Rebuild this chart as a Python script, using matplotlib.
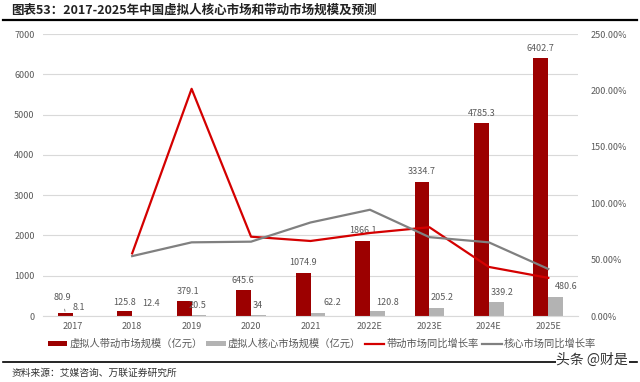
import matplotlib
matplotlib.use('Agg')
import matplotlib.pyplot as plt
from matplotlib.lines import Line2D
import numpy as np

plt.rcParams['font.family'] = ['Noto Sans CJK SC', 'DejaVu Sans']

years = ['2017', '2018', '2019', '2020', '2021', '2022E', '2023E', '2024E', '2025E']
driven = [80.9, 125.8, 379.1, 645.6, 1074.9, 1866.1, 3334.7, 4785.3, 6402.7]
core = [8.1, 12.4, 20.5, 34, 62.2, 120.8, 205.2, 339.2, 480.6]
driven_growth = [np.nan, 55.5, 201.4, 70.3, 66.5, 73.6, 78.7, 43.5, 33.8]
core_growth = [np.nan, 53.1, 65.3, 65.9, 82.9, 94.2, 69.9, 65.3, 41.7]

title = '图表53：2017-2025年中国虚拟人核心市场和带动市场规模及预测'
source = '资料来源：艾媒咨询、万联证券研究所'
legend_labels = ['虚拟人带动市场规模（亿元）', '虚拟人核心市场规模（亿元）',
                 '带动市场同比增长率', '核心市场同比增长率']

RED_BAR = '#9C0000'
GRAY_BAR = '#B3B3B3'
RED_LINE = '#D40000'
GRAY_LINE = '#808080'
TXT = '#595959'

W, H = 640, 382
fig = plt.figure(figsize=(6.4, 3.82), dpi=100)
ax = fig.add_axes([43 / W, 1 - 316 / H, 535 / W, 282 / H])

x = np.arange(len(years))
bw = 0.25
b1 = ax.bar(x - bw / 2, driven, bw, color=RED_BAR, label=legend_labels[0], zorder=2)
b2 = ax.bar(x + bw / 2, core, bw, color=GRAY_BAR, label=legend_labels[1], zorder=2)

ax.set_xlim(-0.5, len(years) - 0.5)
ax.set_ylim(0, 7000)
ax.set_yticks(range(0, 7001, 1000))
ax.set_xticks(x)
ax.set_xticklabels(years)
ax.grid(axis='y', color='#D9D9D9', lw=0.8, zorder=0)
ax.set_axisbelow(True)
for s in ['top', 'left', 'right']:
    ax.spines[s].set_visible(False)
ax.spines['bottom'].set_color('#D9D9D9')
ax.tick_params(axis='both', length=0, labelsize=6.5, colors=TXT)
ax.tick_params(axis='y', pad=6)
ax.tick_params(axis='x', pad=4)

# bar labels
red_dx = [-3, 0, 4, -1, 0, 0, 0, 0, 0]
red_dy = [15, 8, 9, 9, 10, 10, 10, 10, 10]
for i, v in enumerate(driven):
    kw = {}
    if i == 0:
        kw['arrowprops'] = dict(arrowstyle='-', color='#808080', lw=0.6,
                                shrinkA=3, shrinkB=1)
    ax.annotate(f'{v:g}', (x[i] - bw / 2, v), xytext=(red_dx[i], red_dy[i]),
                textcoords='offset pixels', ha='center', va='center',
                fontsize=6.5, color=TXT, zorder=3, **kw)

gray_dx = [-1, 11, -2, -1, 14, 10, 5, 6, 10]
gray_dy = [8, 12, 9.5, 9.5, 10.5, 9, 10, 10, 10]
for i, v in enumerate(core):
    ax.annotate(f'{v:g}', (x[i] + bw / 2, v), xytext=(gray_dx[i], gray_dy[i]),
                textcoords='offset pixels', ha='center', va='center',
                fontsize=6.5, color=TXT, zorder=3)

ax2 = ax.twinx()
l1, = ax2.plot(x, driven_growth, color=RED_LINE, lw=1.6, label=legend_labels[2])
l2, = ax2.plot(x, core_growth, color=GRAY_LINE, lw=1.6, label=legend_labels[3])
ax2.set_ylim(0, 250)
ax2.set_yticks(range(0, 251, 50))
ax2.set_yticklabels([f'{t:.2f}%' for t in range(0, 251, 50)])
for s in ax2.spines.values():
    s.set_visible(False)
ax2.tick_params(axis='y', length=0, labelsize=6.5, colors=TXT, pad=9)

fig.legend([b1, b2, l1, l2], legend_labels, loc='center', ncol=4,
           bbox_to_anchor=(322 / W, 1 - 344 / H), frameon=False,
           fontsize=7.4, labelcolor=TXT, handlelength=1.9, handleheight=0.45,
           handletextpad=0.2, columnspacing=0.35)

fig.text(11 / W, 1 - 10.5 / H, title, fontsize=9, fontweight='bold',
         ha='left', va='center', color='#222222')
fig.add_artist(Line2D([3 / W, 637 / W], [1 - 20 / H] * 2, color='black', lw=1.6))
fig.add_artist(Line2D([3 / W, 637 / W], [1 - 362 / H] * 2, color='black', lw=1.2))
fig.text(12 / W, 1 - 373 / H, source, fontsize=7, style='italic',
         ha='left', va='center', color='#333333')
fig.text(628 / W, 1 - 360 / H, '头条 @财是', fontsize=10, ha='right', va='center',
         color='#333333', bbox=dict(facecolor='white', edgecolor='none', pad=0.5))

fig.savefig('out.png', dpi=100)
